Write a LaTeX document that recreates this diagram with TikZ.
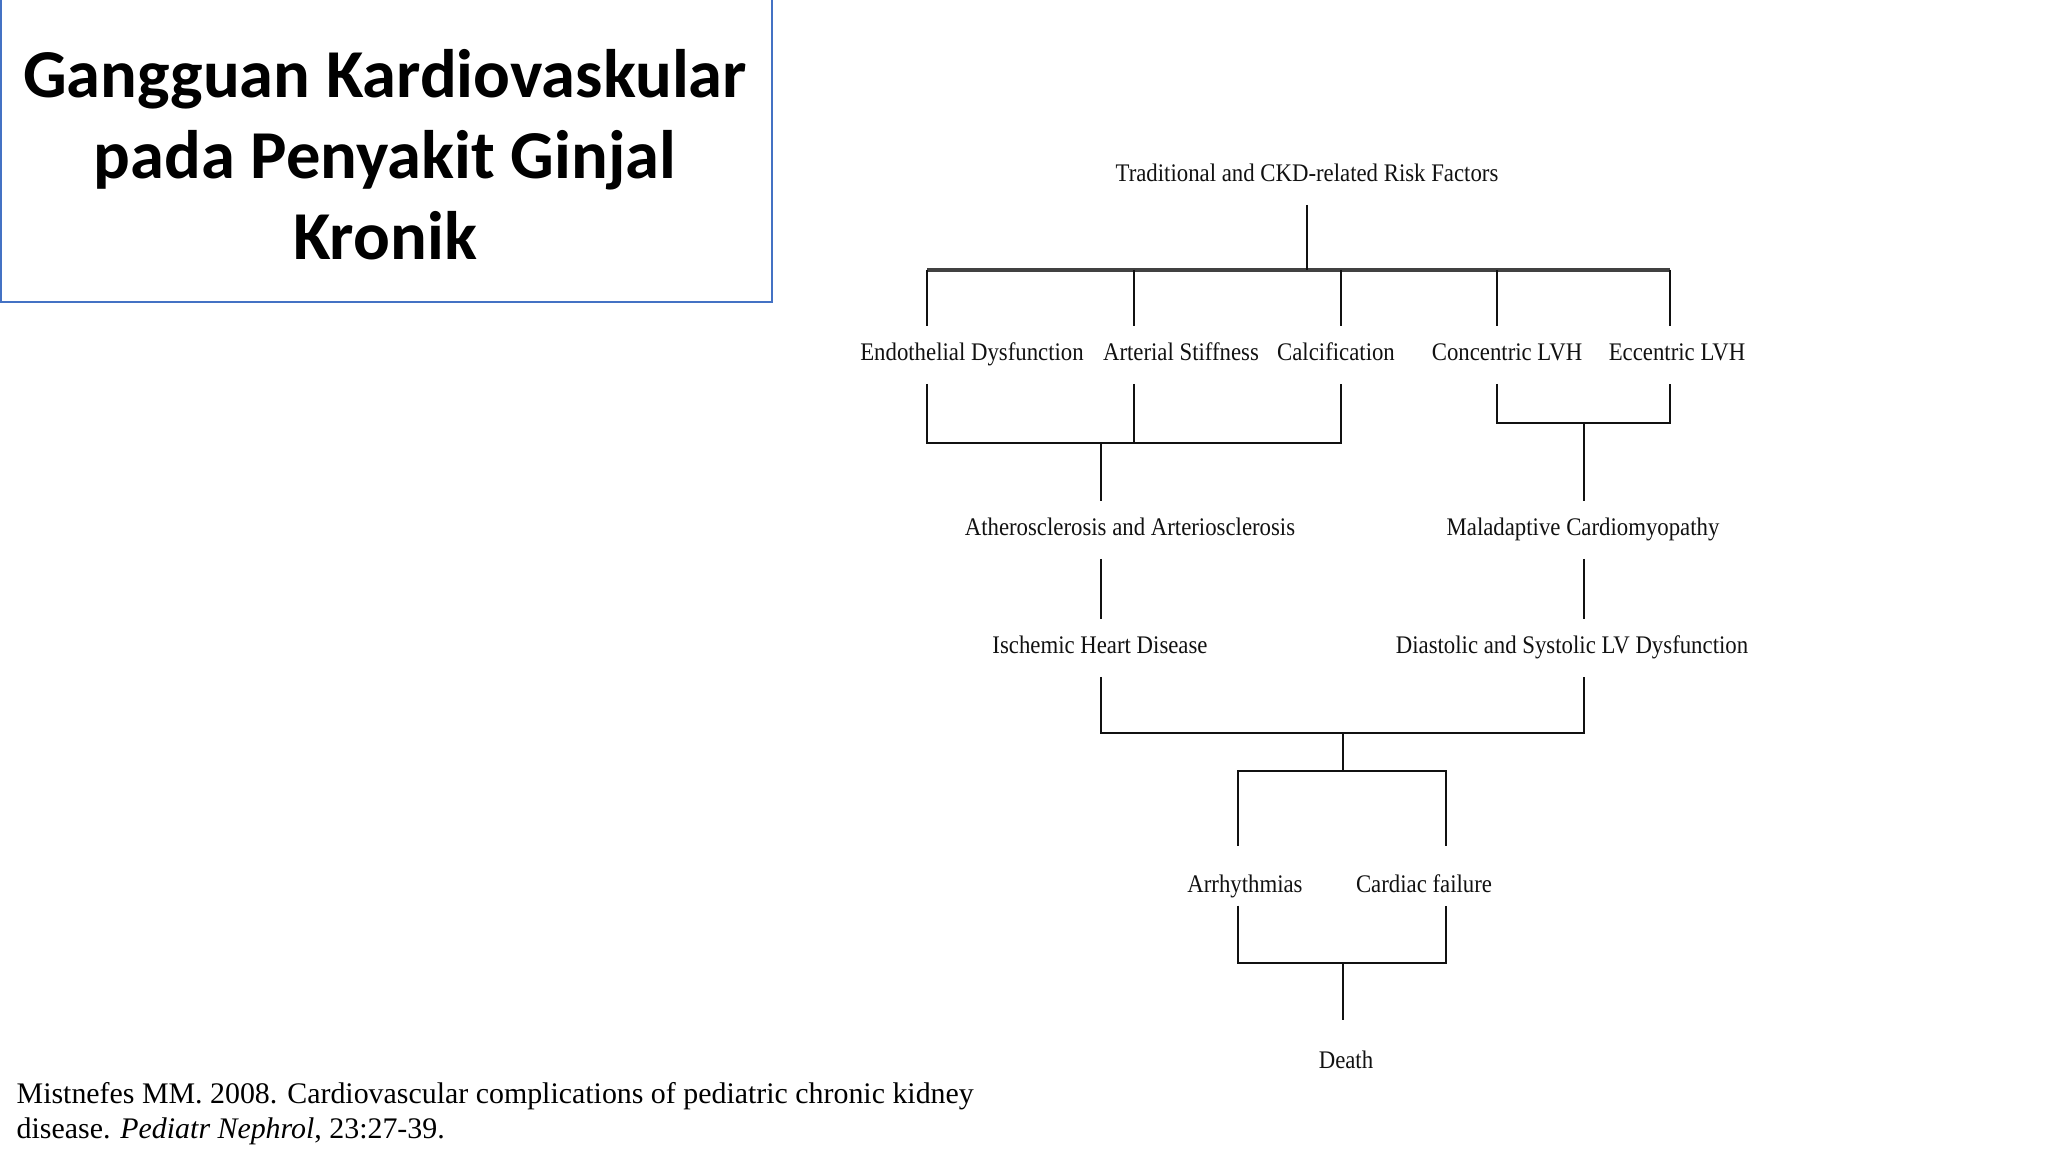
\documentclass[tikz,border=0pt]{standalone}
\usepackage{fontspec}
\setmainfont{Liberation Serif}
\newfontfamily\titlefont{Carlito}
\newfontfamily\figfont[FakeStretch=0.9]{Liberation Serif}
\usetikzlibrary{calc}
\definecolor{ink}{HTML}{111111}
\definecolor{frame}{HTML}{4472C4}

\tikzset{
  lbl/.style={font=\figfont\fontsize{7.2}{8.6}\selectfont,text=ink,
    inner xsep=0pt,inner ysep=4.7pt,text height=5pt,text depth=1.6pt},
  lowlbl/.style={lbl,anchor=base,inner ysep=2.1pt,text height=10.9pt},
  link/.style={ink,line width=0.6pt},
  bus/.style={ink!80,line width=0.9pt}
}

\begin{document}
\begin{tikzpicture}[x=0.01cm,y=-0.01cm]
  \useasboundingbox (0,0) rectangle (2048,1152);

  \draw[frame,line width=0.75pt] (1,-2) rectangle (772,302);
  \node[font=\titlefont\bfseries\fontsize{19.5}{23}\selectfont,align=center]
    (title) at (385,155)
    {Gangguan Kardiovaskular\\pada Penyakit Ginjal\\Kronik};

  \node[lbl] (risk) at (1307,176) {Traditional and CKD-related Risk Factors};
  \node[lbl] (endo) at (972,355) {Endothelial Dysfunction};
  \node[lbl] (stiff) at (1181,355) {Arterial Stiffness};
  \node[lbl] (calc) at (1336,355) {Calcification};
  \node[lbl] (conc) at (1507,355) {Concentric LVH};
  \node[lbl] (ecc) at (1677,355) {Eccentric LVH};
  \node[lbl] (athero) at (1130,530) {Atherosclerosis and Arteriosclerosis};
  \node[lbl] (malad) at (1583,530) {Maladaptive Cardiomyopathy};
  \node[lbl] (ischemic) at (1100,648) {Ischemic Heart Disease};
  \node[lbl] (diast) at (1572,648) {Diastolic and Systolic LV Dysfunction};
  \node[lowlbl] (arrh) at (1245,892) {Arrhythmias};
  \node[lowlbl] (cardiac) at (1424,892) {Cardiac failure};
  \node[lbl,anchor=base,text height=8.8pt] (death) at (1346,1068) {Death};

  \coordinate (b1) at (927,270);
  \coordinate (b2) at (1134,270);
  \coordinate (b3) at (1341,270);
  \coordinate (b4) at (1497,270);
  \coordinate (b5) at (1670,270);
  \coordinate (j1) at (1101,443);
  \coordinate (j2) at (1584,423);
  \coordinate (j3) at (1343,733);
  \coordinate (j4) at (1343,771);
  \coordinate (a1) at (1238,771);
  \coordinate (a2) at (1446,771);
  \coordinate (j5) at (1343,963);

  \draw[bus] (b1) -- (b5);
  \draw[link] (risk.south) -- (risk.south |- b1);
  \foreach \b/\n in {b1/endo,b2/stiff,b3/calc,b4/conc,b5/ecc}
    \draw[link] (\b) -- (\b |- \n.north);

  \draw[link] (b1 |- endo.south) -- (b1 |- j1) -- (b3 |- j1)
    -- (b3 |- calc.south);
  \draw[link] (b2 |- stiff.south) -- (b2 |- j1);
  \draw[link] (j1) -- (j1 |- athero.north);
  \draw[link] (b4 |- conc.south) -- (b4 |- j2) -- (b5 |- j2)
    -- (b5 |- ecc.south);
  \draw[link] (j2) -- (j2 |- malad.north);

  \draw[link] (j1 |- athero.south) -- (j1 |- ischemic.north);
  \draw[link] (j2 |- malad.south) -- (j2 |- diast.north);

  \draw[link] (j1 |- ischemic.south) -- (j1 |- j3) -- (j2 |- j3)
    -- (j2 |- diast.south);
  \draw[link] (j3) -- (j4);
  \draw[link] (a1 |- arrh.north) -- (a1) -- (a2) -- (a2 |- cardiac.north);
  \draw[link] (a1 |- arrh.south) -- (a1 |- j5) -- (a2 |- j5)
    -- (a2 |- cardiac.south);
  \draw[link] (j5) -- (j5 |- death.north);

  \node[anchor=west,align=left,inner sep=0pt,
        font=\fontsize{8.5}{10}\selectfont] (cite) at (16,1114)
    {Mistnefes MM. 2008. Cardiovascular complications of pediatric chronic kidney\\
     disease. \textit{Pediatr Nephrol}, 23:27-39.};
\end{tikzpicture}
\end{document}
